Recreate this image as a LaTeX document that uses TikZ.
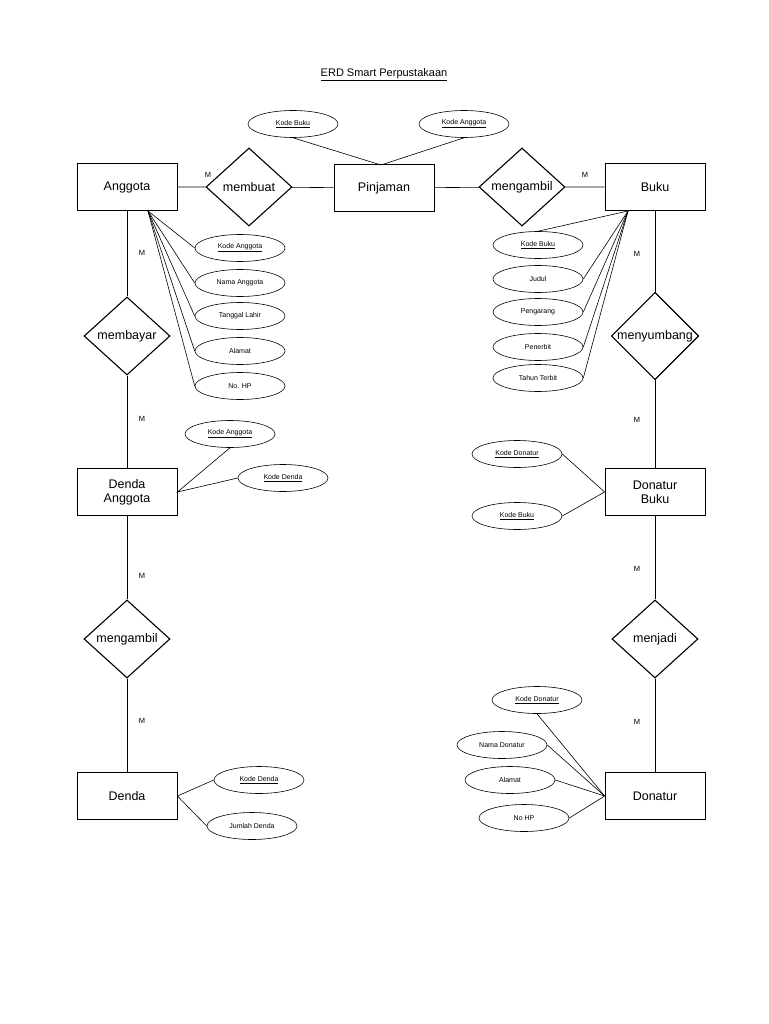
\documentclass[tikz,border=0pt]{standalone}
\usepackage{fontspec}
\setmainfont{Liberation Sans}
\usetikzlibrary{shapes.geometric}
\newcommand{\pk}[1]{\underline{#1}}
\begin{document}
\begin{tikzpicture}[x=1pt,y=-1pt,
 ent/.style={draw,line width=0.8pt,minimum width=100pt,minimum height=47pt,font=\fontsize{12.5}{14}\selectfont,align=center,inner sep=1pt},
 rel/.style={draw,diamond,line width=1.1pt,minimum width=86pt,minimum height=78pt,inner sep=0pt,font=\fontsize{12.5}{14}\selectfont},
 att/.style={draw,ellipse,line width=0.6pt,minimum width=90pt,minimum height=27pt,inner sep=0pt,font=\fontsize{7}{8}\selectfont},
 key/.style={att},
 card/.style={font=\fontsize{7.5}{8}\selectfont},
 ln/.style={line width=0.6pt}]
\useasboundingbox (0,0) rectangle (768,1024);
\node (title) at (384,75) {\fontsize{11}{13}\selectfont\underline{ERD Smart Perpustakaan}};
% top row
\node[ent] (ang) at (127,187) {Anggota};
\node[rel] (mbt) at (249,187) {membuat};
\node[ent] (pin) at (384,188) {Pinjaman};
\node[rel] (mga) at (522,187) {mengambil};
\node[ent] (buk) at (655,187) {Buku};
\node[key] (pkb) at (293,124) {\pk{Kode Buku}};
\node[key] (pka) at (464,124) {\pk{Kode Anggota}};
\coordinate (pt) at (381,165);
\draw[ln] (pkb.south) -- (pt) -- (pka.south);
\draw[ln] (ang) -- (mbt) -- (pin) -- (mga) -- (buk);
\node[card] (m1) at (208,175) {M};
\node[card] (m2) at (585,175) {M};
% Anggota attrs
\coordinate (ac) at (148,211);
\node[key] (a1) at (240,248) {\pk{Kode Anggota}};
\node[att] (a2) at (240,283) {Nama Anggota};
\node[att] (a3) at (240,316) {Tanggal Lahir};
\node[att] (a4) at (240,351) {Alamat};
\node[att] (a5) at (240,386) {No. HP};
\foreach \a in {a1,a2,a3,a4,a5} \draw[ln] (ac) -- (\a.west);
% Buku attrs
\coordinate (bc) at (628,211);
\node[key] (b1) at (538,245) {\pk{Kode Buku}};
\node[att] (b2) at (538,279) {Judul};
\node[att] (b3) at (538,312) {Pengarang};
\node[att] (b4) at (538,347) {Penerbit};
\node[att] (b5) at (538,378) {Tahun Terbit};
\draw[ln] (bc) -- (b1.north);
\foreach \b in {b2,b3,b4,b5} \draw[ln] (bc) -- (\b.east);
% left column
\node[rel] (mby) at (127,336) {membayar};
\node[ent] (dan) at (127,492) {Denda\\Anggota};
\node[rel] (mgl) at (127,639) {mengambil};
\node[ent] (den) at (127,796) {Denda};
\draw[ln] (ang) -- (mby) -- (dan) -- (mgl) -- (den);
\node[card] at (142,253) {M};
\node[card] at (142,419) {M};
\node[card] at (142,576) {M};
\node[card] at (142,721) {M};
\node[key] (d1) at (230,434) {\pk{Kode Anggota}};
\node[key] (d2) at (283,478) {\pk{Kode Denda}};
\draw[ln] (d1.south) -- (dan.east) -- (d2.west);
\node[key] (e1) at (259,780) {\pk{Kode Denda}};
\node[att] (e2) at (252,826) {Jumlah Denda};
\draw[ln] (e1.west) -- (den.east) -- (e2.west);
% right column
\node[rel] (mny) at (655,336) {menyumbang};
\node[ent] (dbk) at (655,492) {Donatur\\Buku};
\node[rel] (mjd) at (655,639) {menjadi};
\node[ent] (don) at (655,796) {Donatur};
\draw[ln] (buk) -- (mny) -- (dbk) -- (mjd) -- (don);
\node[card] at (637,254) {M};
\node[card] at (637,420) {M};
\node[card] at (637,569) {M};
\node[card] at (637,722) {M};
\node[key] (f1) at (517,454) {\pk{Kode Donatur}};
\node[key] (f2) at (517,516) {\pk{Kode Buku}};
\draw[ln] (f1.east) -- (dbk.west) -- (f2.east);
\node[key] (g1) at (537,700) {\pk{Kode Donatur}};
\node[att] (g2) at (502,745) {Nama Donatur};
\node[att] (g3) at (510,780) {Alamat};
\node[att] (g4) at (524,818) {No HP};
\draw[ln] (g1.south) -- (don.west);
\foreach \g in {g2,g3,g4} \draw[ln] (\g.east) -- (don.west);
\end{tikzpicture}
\end{document}
